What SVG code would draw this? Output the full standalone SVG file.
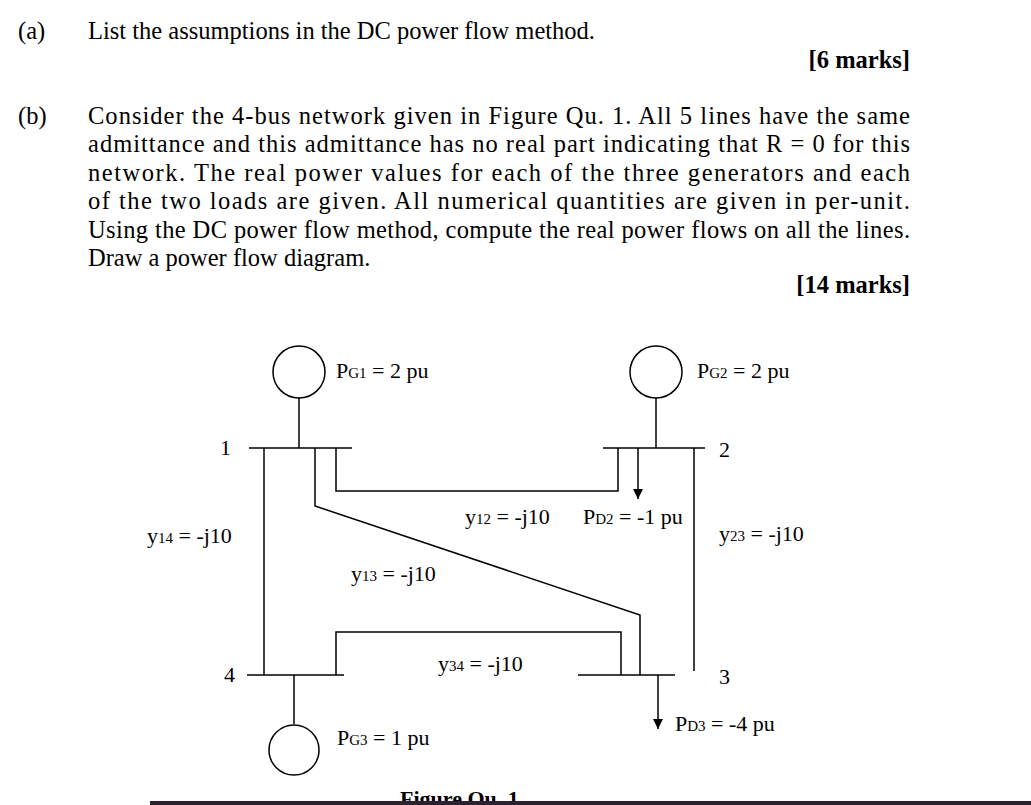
<svg xmlns="http://www.w3.org/2000/svg" width="1031" height="805" viewBox="0 0 1031 805">
<style>
text{font-family:"Liberation Serif","Times New Roman",serif;font-size:22px;fill:#000}
.q{font-size:24.5px}
.b{font-weight:bold}
.s{font-size:15px}
line,polyline,circle{stroke:#000;stroke-width:1.5;fill:none}
</style>
<defs><marker id="ah" markerWidth="10" markerHeight="10" refX="10" refY="5" orient="auto" markerUnits="userSpaceOnUse"><path d="M0,0 L10,5 L0,10 Z" fill="#000"/></marker></defs>
<rect width="1031" height="805" fill="#fff"/>
<g id="question">
<text class="q" x="18" y="39">(a)</text>
<text class="q" x="88" y="39">List the assumptions in the DC power flow method.</text>
<text class="q b" x="910" y="68" text-anchor="end">[6 marks]</text>
<text class="q" x="18" y="124">(b)</text>
<text class="q" x="88" y="124" textLength="822" lengthAdjust="spacing">Consider the 4-bus network given in Figure Qu. 1.  All 5 lines have the same</text>
<text class="q" x="88" y="152" textLength="822" lengthAdjust="spacing">admittance and this admittance has no real part indicating that R = 0 for this</text>
<text class="q" x="88" y="181" textLength="822" lengthAdjust="spacing">network. The real power values for each of the three generators and each</text>
<text class="q" x="88" y="209" textLength="822" lengthAdjust="spacing">of  the two loads are  given.  All numerical quantities are given in per-unit.</text>
<text class="q" x="88" y="238" textLength="822" lengthAdjust="spacing">Using the DC power flow method, compute the real power flows on all the lines.</text>
<text class="q" x="88" y="266">Draw a power flow diagram.</text>
<text class="q b" x="910" y="293" text-anchor="end">[14 marks]</text>
</g>
<g id="connectors">
<line x1="264" y1="448" x2="264" y2="675"/>
<polyline points="315,448 315,506 640,615 640,675"/>
<polyline points="336,448 336,491 618,491 618,448"/>
<line x1="694" y1="448" x2="694" y2="671"/>
<polyline points="336,675 336,632 621,632 621,675"/>
<line x1="299" y1="398" x2="299" y2="448"/>
<line x1="656" y1="398" x2="656" y2="448"/>
<line x1="294" y1="675" x2="294" y2="724"/>
<line x1="638" y1="448" x2="638" y2="499" marker-end="url(#ah)"/>
<line x1="658" y1="675" x2="658" y2="729" marker-end="url(#ah)"/>
</g>
<g id="bus1"><line x1="249" y1="448" x2="352" y2="448"/><text x="220" y="455">1</text></g>
<g id="bus2"><line x1="603" y1="448" x2="705" y2="448"/><text x="719" y="457">2</text></g>
<g id="bus3"><line x1="578" y1="675" x2="675" y2="675"/><text x="719" y="684">3</text></g>
<g id="bus4"><line x1="247" y1="675" x2="344" y2="675"/><text x="224" y="682">4</text></g>
<g id="G1"><circle cx="299" cy="372" r="26"/><text x="336" y="378">P<tspan class="s">G1</tspan> = 2 pu</text></g>
<g id="G2"><circle cx="656" cy="372" r="26"/><text x="697" y="378">P<tspan class="s">G2</tspan> = 2 pu</text></g>
<g id="G3"><circle cx="294" cy="750" r="25"/><text x="337" y="745">P<tspan class="s">G3</tspan> = 1 pu</text></g>
<g id="labels">
<text x="465" y="524">y<tspan class="s">12</tspan> = -j10</text>
<text x="583" y="524">P<tspan class="s">D2</tspan> = -1 pu</text>
<text x="147" y="543">y<tspan class="s">14</tspan> = -j10</text>
<text x="719" y="541">y<tspan class="s">23</tspan> = -j10</text>
<text x="351" y="581">y<tspan class="s">13</tspan> = -j10</text>
<text x="438" y="671">y<tspan class="s">34</tspan> = -j10</text>
<text x="675" y="731">P<tspan class="s">D3</tspan> = -4 pu</text>
<text x="400" y="806" class="b">Figure Qu. 1</text>
</g>
<rect x="150" y="801" width="881" height="4" fill="#2a2230"/>
</svg>
